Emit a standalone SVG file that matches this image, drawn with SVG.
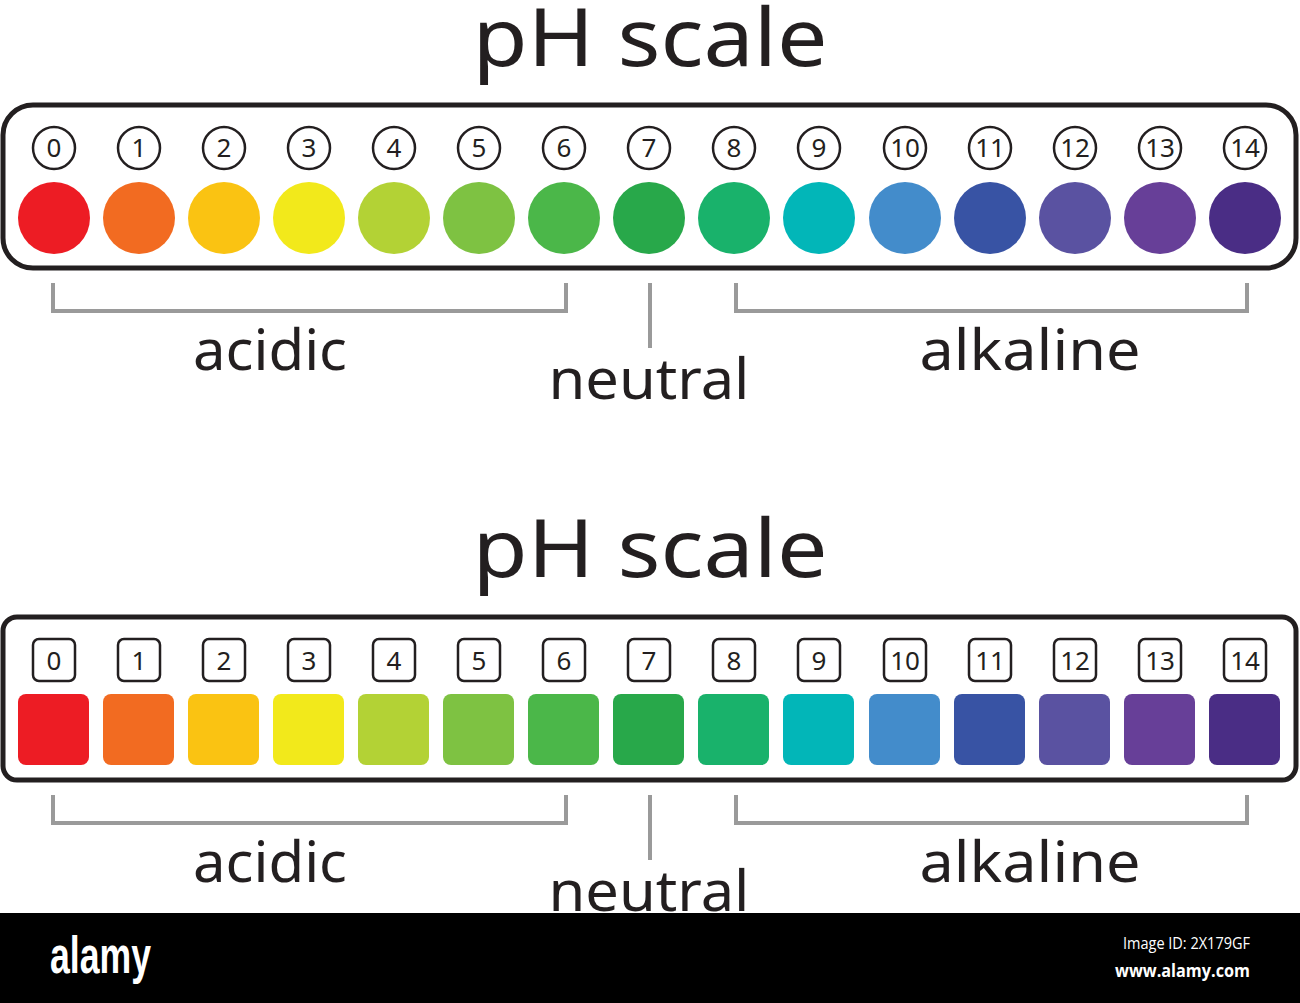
<svg xmlns="http://www.w3.org/2000/svg" width="1300" height="1003" viewBox="0 0 1300 1003">
<style>
.title{font-family:"Noto Sans","Open Sans",sans-serif;font-size:81px;fill:#231f20;text-anchor:middle}
.lbl{font-family:"Noto Sans","Open Sans",sans-serif;font-size:56px;fill:#231f20;text-anchor:middle}
.num{font-family:"Noto Sans","Open Sans",sans-serif;font-size:26px;fill:#231f20;text-anchor:middle}
.frame{fill:#fff;stroke:#231f20;stroke-width:5}
.badge{fill:#fff;stroke:#231f20;stroke-width:2.5}
.br{fill:none;stroke:#9a9a9a;stroke-width:4}
</style>
<rect width="1300" height="1003" fill="#fff"/>
<text class="title" x="650" y="66" textLength="355" lengthAdjust="spacingAndGlyphs">pH scale</text>
<g id="frame1"><rect class="frame" x="3" y="105" width="1293" height="163" rx="30"/></g>
<g id="scale1">
<g id="c0"><circle class="badge" cx="54" cy="148" r="21"/><text class="num" x="54" y="157">0</text><circle cx="54" cy="218" r="36" fill="#ED1C24"/></g>
<g id="c1"><circle class="badge" cx="139" cy="148" r="21"/><text class="num" x="139" y="157">1</text><circle cx="139" cy="218" r="36" fill="#F26B21"/></g>
<g id="c2"><circle class="badge" cx="224" cy="148" r="21"/><text class="num" x="224" y="157">2</text><circle cx="224" cy="218" r="36" fill="#FAC312"/></g>
<g id="c3"><circle class="badge" cx="309" cy="148" r="21"/><text class="num" x="309" y="157">3</text><circle cx="309" cy="218" r="36" fill="#F2E91B"/></g>
<g id="c4"><circle class="badge" cx="394" cy="148" r="21"/><text class="num" x="394" y="157">4</text><circle cx="394" cy="218" r="36" fill="#B3D235"/></g>
<g id="c5"><circle class="badge" cx="479" cy="148" r="21"/><text class="num" x="479" y="157">5</text><circle cx="479" cy="218" r="36" fill="#7EC242"/></g>
<g id="c6"><circle class="badge" cx="564" cy="148" r="21"/><text class="num" x="564" y="157">6</text><circle cx="564" cy="218" r="36" fill="#4BB749"/></g>
<g id="c7"><circle class="badge" cx="649" cy="148" r="21"/><text class="num" x="649" y="157">7</text><circle cx="649" cy="218" r="36" fill="#28A84A"/></g>
<g id="c8"><circle class="badge" cx="734" cy="148" r="21"/><text class="num" x="734" y="157">8</text><circle cx="734" cy="218" r="36" fill="#19B26B"/></g>
<g id="c9"><circle class="badge" cx="819" cy="148" r="21"/><text class="num" x="819" y="157">9</text><circle cx="819" cy="218" r="36" fill="#02B6B8"/></g>
<g id="c10"><circle class="badge" cx="905" cy="148" r="21"/><text class="num" x="905" y="157">10</text><circle cx="905" cy="218" r="36" fill="#438CCB"/></g>
<g id="c11"><circle class="badge" cx="990" cy="148" r="21"/><text class="num" x="990" y="157">11</text><circle cx="990" cy="218" r="36" fill="#3853A4"/></g>
<g id="c12"><circle class="badge" cx="1075" cy="148" r="21"/><text class="num" x="1075" y="157">12</text><circle cx="1075" cy="218" r="36" fill="#5A52A1"/></g>
<g id="c13"><circle class="badge" cx="1160" cy="148" r="21"/><text class="num" x="1160" y="157">13</text><circle cx="1160" cy="218" r="36" fill="#673F98"/></g>
<g id="c14"><circle class="badge" cx="1245" cy="148" r="21"/><text class="num" x="1245" y="157">14</text><circle cx="1245" cy="218" r="36" fill="#4A2D85"/></g>
</g>
<g id="connectors">
<path class="br" d="M53 283V311H566V283"/>
<path class="br" d="M650 283V348"/>
<path class="br" d="M736 283V311H1247V283"/>
<path class="br" d="M53 795V823H566V795"/>
<path class="br" d="M650 795V860"/>
<path class="br" d="M736 795V823H1247V795"/>
</g>
<text class="lbl" x="270" y="370" textLength="154" lengthAdjust="spacingAndGlyphs">acidic</text>
<text class="lbl" x="649" y="399" textLength="201" lengthAdjust="spacingAndGlyphs">neutral</text>
<text class="lbl" x="1030" y="370" textLength="221" lengthAdjust="spacingAndGlyphs">alkaline</text>

<text class="title" x="650" y="577" textLength="355" lengthAdjust="spacingAndGlyphs">pH scale</text>
<g id="frame2"><rect class="frame" x="3" y="617" width="1293" height="163" rx="14"/></g>
<g id="scale2">
<g id="s0"><rect class="badge" x="33" y="639" width="42" height="42" rx="6"/><text class="num" x="54" y="670">0</text><rect x="18" y="694" width="71" height="71" rx="8" fill="#ED1C24"/></g>
<g id="s1"><rect class="badge" x="118" y="639" width="42" height="42" rx="6"/><text class="num" x="139" y="670">1</text><rect x="103" y="694" width="71" height="71" rx="8" fill="#F26B21"/></g>
<g id="s2"><rect class="badge" x="203" y="639" width="42" height="42" rx="6"/><text class="num" x="224" y="670">2</text><rect x="188" y="694" width="71" height="71" rx="8" fill="#FAC312"/></g>
<g id="s3"><rect class="badge" x="288" y="639" width="42" height="42" rx="6"/><text class="num" x="309" y="670">3</text><rect x="273" y="694" width="71" height="71" rx="8" fill="#F2E91B"/></g>
<g id="s4"><rect class="badge" x="373" y="639" width="42" height="42" rx="6"/><text class="num" x="394" y="670">4</text><rect x="358" y="694" width="71" height="71" rx="8" fill="#B3D235"/></g>
<g id="s5"><rect class="badge" x="458" y="639" width="42" height="42" rx="6"/><text class="num" x="479" y="670">5</text><rect x="443" y="694" width="71" height="71" rx="8" fill="#7EC242"/></g>
<g id="s6"><rect class="badge" x="543" y="639" width="42" height="42" rx="6"/><text class="num" x="564" y="670">6</text><rect x="528" y="694" width="71" height="71" rx="8" fill="#4BB749"/></g>
<g id="s7"><rect class="badge" x="628" y="639" width="42" height="42" rx="6"/><text class="num" x="649" y="670">7</text><rect x="613" y="694" width="71" height="71" rx="8" fill="#28A84A"/></g>
<g id="s8"><rect class="badge" x="713" y="639" width="42" height="42" rx="6"/><text class="num" x="734" y="670">8</text><rect x="698" y="694" width="71" height="71" rx="8" fill="#19B26B"/></g>
<g id="s9"><rect class="badge" x="798" y="639" width="42" height="42" rx="6"/><text class="num" x="819" y="670">9</text><rect x="783" y="694" width="71" height="71" rx="8" fill="#02B6B8"/></g>
<g id="s10"><rect class="badge" x="884" y="639" width="42" height="42" rx="6"/><text class="num" x="905" y="670">10</text><rect x="869" y="694" width="71" height="71" rx="8" fill="#438CCB"/></g>
<g id="s11"><rect class="badge" x="969" y="639" width="42" height="42" rx="6"/><text class="num" x="990" y="670">11</text><rect x="954" y="694" width="71" height="71" rx="8" fill="#3853A4"/></g>
<g id="s12"><rect class="badge" x="1054" y="639" width="42" height="42" rx="6"/><text class="num" x="1075" y="670">12</text><rect x="1039" y="694" width="71" height="71" rx="8" fill="#5A52A1"/></g>
<g id="s13"><rect class="badge" x="1139" y="639" width="42" height="42" rx="6"/><text class="num" x="1160" y="670">13</text><rect x="1124" y="694" width="71" height="71" rx="8" fill="#673F98"/></g>
<g id="s14"><rect class="badge" x="1224" y="639" width="42" height="42" rx="6"/><text class="num" x="1245" y="670">14</text><rect x="1209" y="694" width="71" height="71" rx="8" fill="#4A2D85"/></g>
</g>
<text class="lbl" x="270" y="882" textLength="154" lengthAdjust="spacingAndGlyphs">acidic</text>
<text class="lbl" x="649" y="911" textLength="201" lengthAdjust="spacingAndGlyphs">neutral</text>
<text class="lbl" x="1030" y="882" textLength="221" lengthAdjust="spacingAndGlyphs">alkaline</text>

<g id="banner">
<rect x="0" y="913" width="1300" height="90" fill="#000"/>
<text x="50" y="973" font-family="'Liberation Sans Narrow','Liberation Sans',sans-serif" font-weight="bold" font-size="52" fill="#fff" textLength="101" lengthAdjust="spacingAndGlyphs">alamy</text>
<text x="1250" y="949" font-family="'Open Sans','Noto Sans',sans-serif" font-size="16" fill="#fff" text-anchor="end" textLength="127" lengthAdjust="spacingAndGlyphs">Image ID: 2X179GF</text>
<text x="1250" y="977" font-family="'Open Sans','Noto Sans',sans-serif" font-weight="bold" font-size="18" fill="#fff" text-anchor="end" textLength="135" lengthAdjust="spacingAndGlyphs">www.alamy.com</text>
</g>
</svg>
